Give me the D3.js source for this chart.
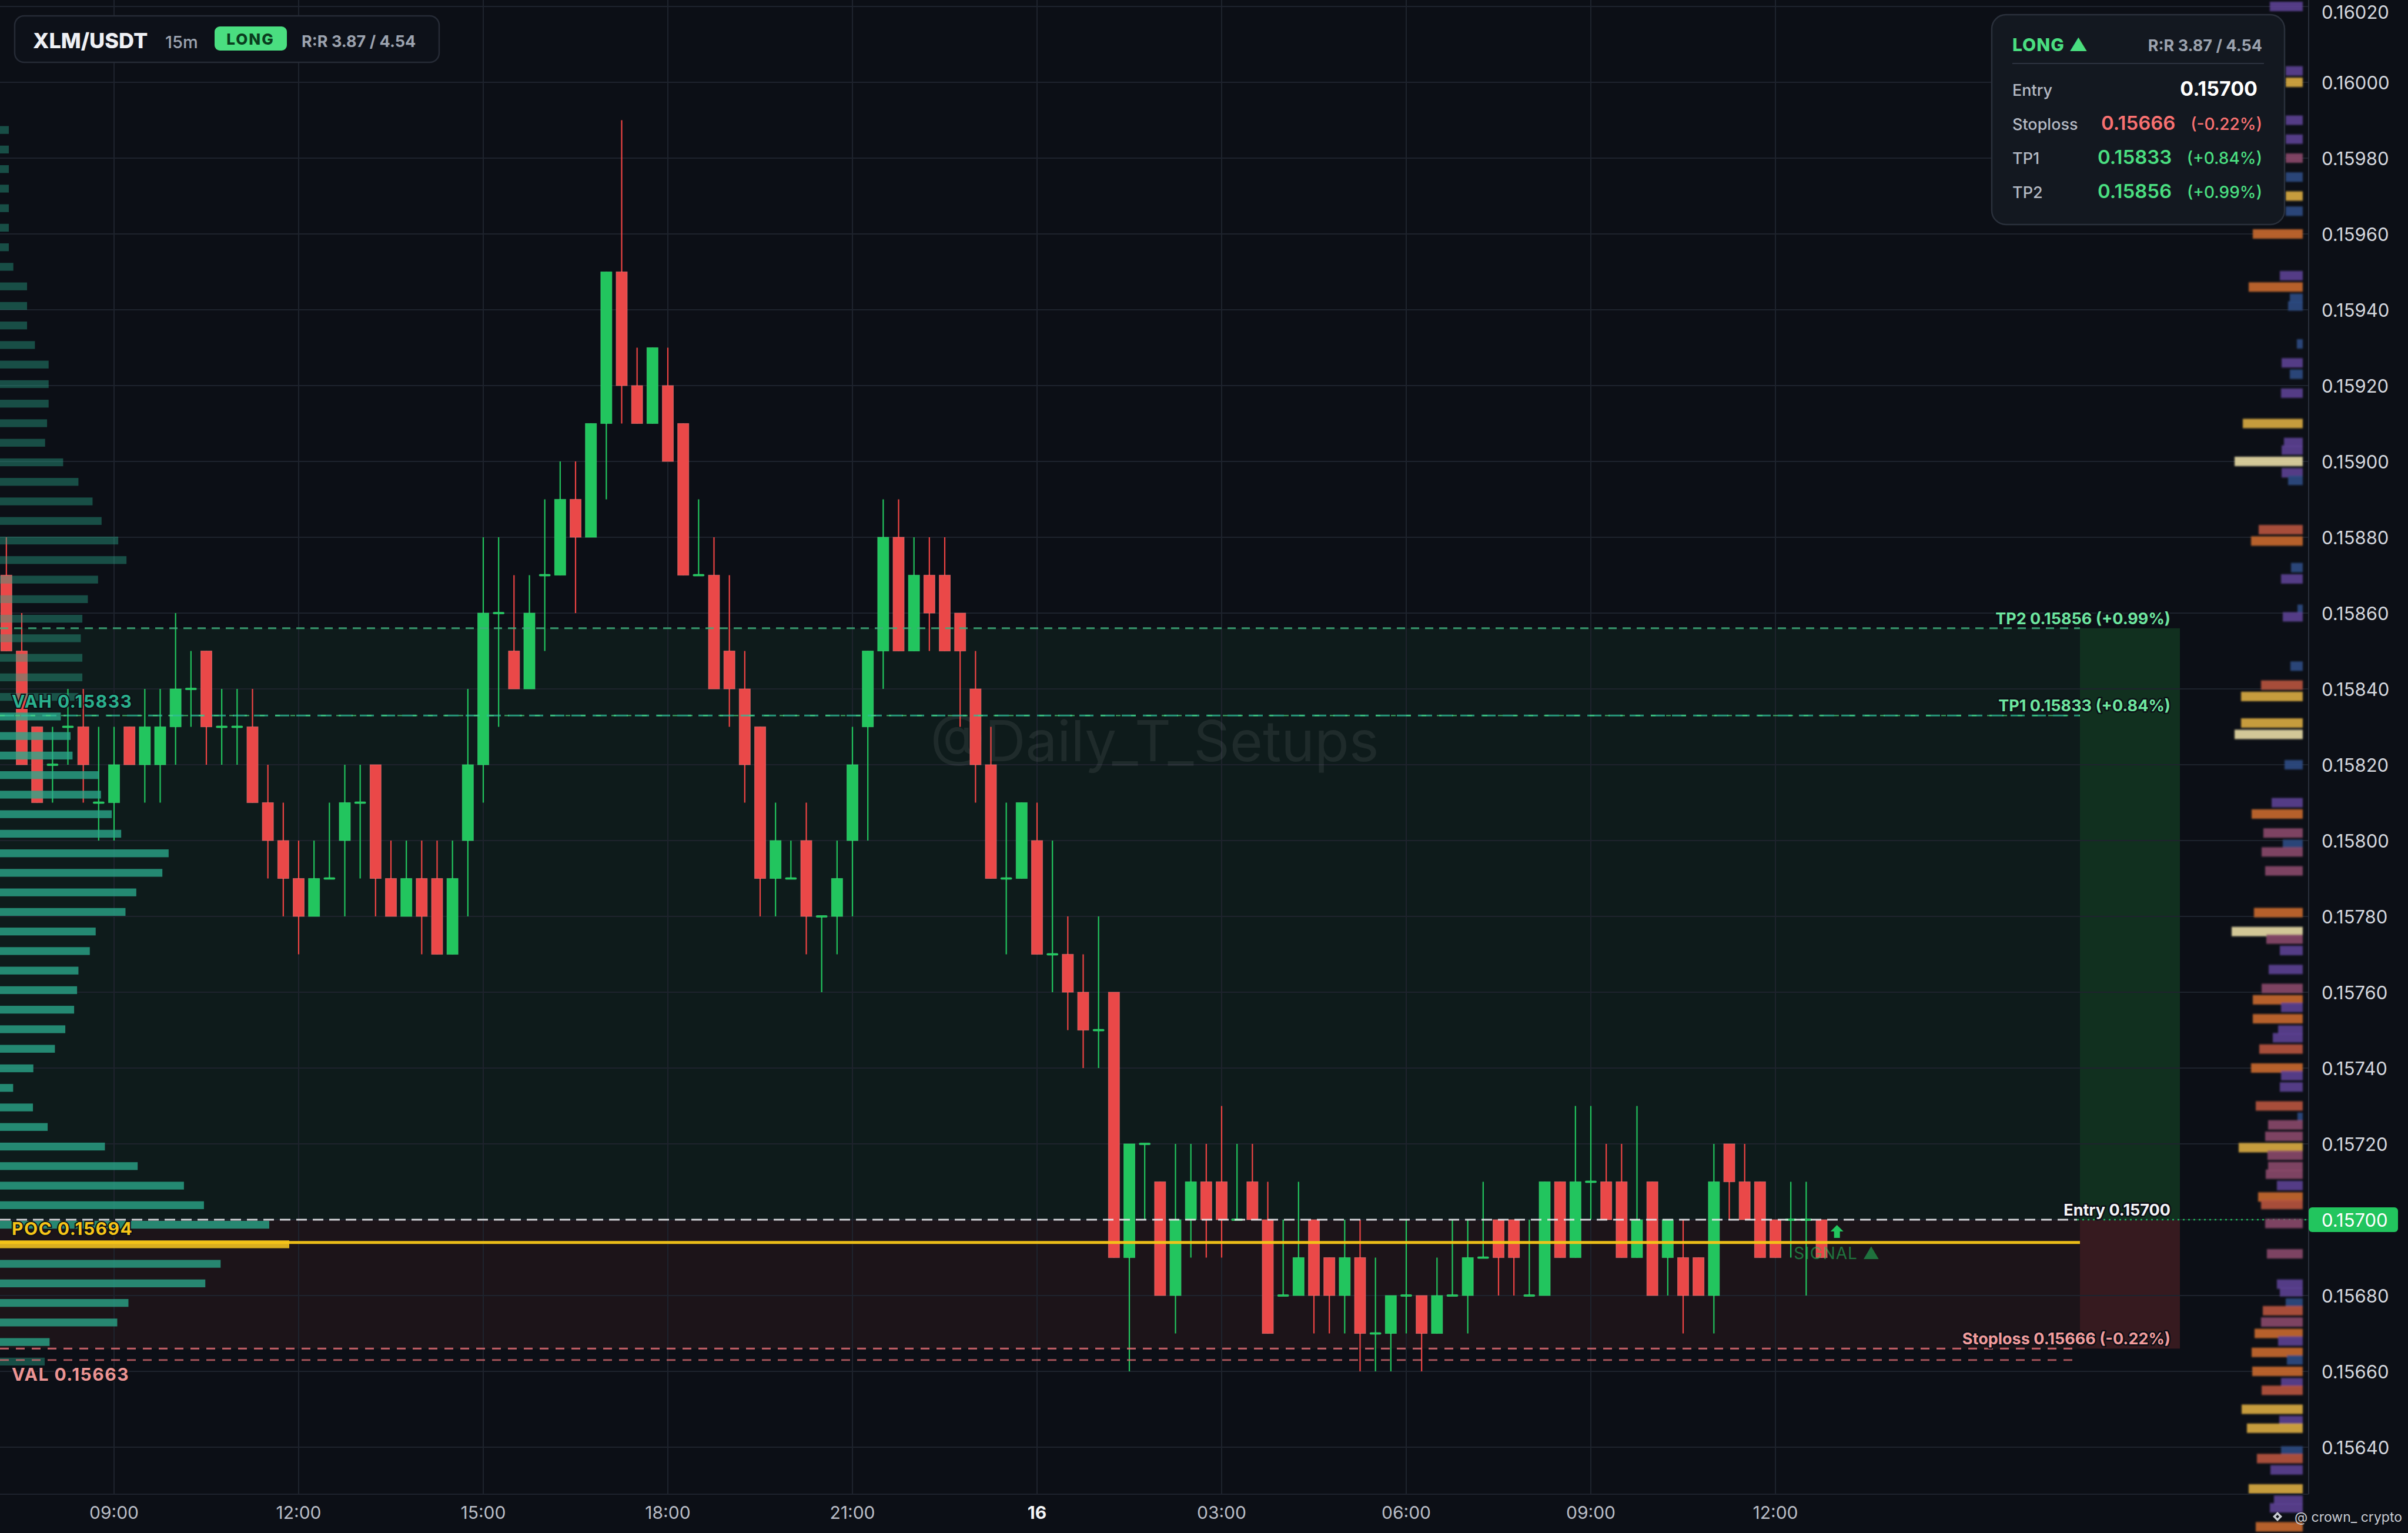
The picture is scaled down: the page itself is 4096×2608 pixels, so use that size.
<!DOCTYPE html>
<html><head><meta charset="utf-8">
<script src="https://cdn.jsdelivr.net/npm/d3@7"></script>
<style>html,body{margin:0;padding:0;background:#0c0f16;overflow:hidden}svg{display:block}</style>
</head><body><svg id="c" width="4096" height="2608"></svg>
<script>
// ---------------- DATA ----------------
const symbol = "XLM/USDT", timeframe = "15m", side = "LONG";
const rrText = "R:R 3.87 / 4.54";
const firstCandle = "2024-01-15 07:15";
const intervalMinutes = 15;
const opens = [
0.15870,0.15850,0.15830,0.15820,0.15830,0.15830,0.15810,0.15810,0.15830,0.15820,
0.15820,0.15830,0.15840,0.15850,0.15830,0.15830,0.15830,0.15810,0.15800,0.15790,
0.15780,0.15790,0.15800,0.15810,0.15820,0.15790,0.15780,0.15790,0.15790,0.15770,
0.15800,0.15820,0.15860,0.15850,0.15840,0.15870,0.15870,0.15890,0.15880,0.15910,
0.15950,0.15920,0.15910,0.15920,0.15910,0.15870,0.15870,0.15850,0.15840,0.15830,
0.15790,0.15790,0.15800,0.15780,0.15780,0.15800,0.15830,0.15850,0.15880,0.15850,
0.15870,0.15870,0.15860,0.15840,0.15820,0.15790,0.15790,0.15800,0.15770,0.15770,
0.15760,0.15750,0.15760,0.15690,0.15720,0.15710,0.15680,0.15700,0.15710,0.15710,
0.15700,0.15710,0.15700,0.15680,0.15680,0.15700,0.15690,0.15680,0.15690,0.15670,
0.15670,0.15680,0.15680,0.15670,0.15680,0.15680,0.15690,0.15700,0.15700,0.15680,
0.15680,0.15710,0.15690,0.15710,0.15710,0.15710,0.15690,0.15710,0.15690,0.15690,
0.15690,0.15680,0.15720,0.15710,0.15710,0.15700,0.15700,0.15700,0.15700];
const highs = [
0.15880,0.15860,0.15830,0.15830,0.15840,0.15840,0.15830,0.15830,0.15830,0.15840,
0.15840,0.15860,0.15850,0.15850,0.15840,0.15840,0.15840,0.15820,0.15810,0.15800,
0.15800,0.15810,0.15820,0.15820,0.15820,0.15800,0.15800,0.15800,0.15800,0.15800,
0.15840,0.15880,0.15880,0.15870,0.15870,0.15890,0.15900,0.15900,0.15910,0.15950,
0.15990,0.15930,0.15930,0.15930,0.15910,0.15890,0.15880,0.15870,0.15850,0.15830,
0.15810,0.15800,0.15810,0.15780,0.15800,0.15830,0.15850,0.15890,0.15890,0.15880,
0.15880,0.15880,0.15860,0.15850,0.15830,0.15810,0.15810,0.15810,0.15800,0.15780,
0.15770,0.15780,0.15760,0.15720,0.15720,0.15710,0.15720,0.15720,0.15720,0.15730,
0.15720,0.15720,0.15710,0.15700,0.15710,0.15700,0.15690,0.15700,0.15700,0.15690,
0.15680,0.15700,0.15680,0.15690,0.15700,0.15700,0.15710,0.15700,0.15700,0.15700,
0.15710,0.15710,0.15730,0.15730,0.15720,0.15720,0.15730,0.15710,0.15700,0.15700,
0.15690,0.15720,0.15720,0.15720,0.15710,0.15700,0.15710,0.15710,0.15700];
const lows = [
0.15850,0.15820,0.15810,0.15810,0.15820,0.15810,0.15800,0.15800,0.15820,0.15810,
0.15810,0.15820,0.15830,0.15820,0.15820,0.15820,0.15810,0.15790,0.15780,0.15770,
0.15780,0.15790,0.15780,0.15790,0.15780,0.15780,0.15780,0.15770,0.15770,0.15770,
0.15780,0.15810,0.15830,0.15840,0.15840,0.15850,0.15870,0.15860,0.15880,0.15890,
0.15910,0.15910,0.15910,0.15900,0.15870,0.15870,0.15840,0.15830,0.15810,0.15780,
0.15780,0.15790,0.15770,0.15760,0.15770,0.15780,0.15800,0.15840,0.15850,0.15850,
0.15850,0.15850,0.15830,0.15810,0.15790,0.15770,0.15790,0.15770,0.15760,0.15750,
0.15740,0.15740,0.15690,0.15660,0.15700,0.15680,0.15670,0.15690,0.15690,0.15690,
0.15700,0.15700,0.15670,0.15680,0.15680,0.15670,0.15670,0.15670,0.15660,0.15660,
0.15660,0.15670,0.15660,0.15670,0.15680,0.15670,0.15690,0.15680,0.15680,0.15680,
0.15680,0.15690,0.15690,0.15700,0.15700,0.15690,0.15690,0.15680,0.15680,0.15670,
0.15680,0.15670,0.15700,0.15700,0.15690,0.15690,0.15690,0.15680,0.15690];
const closes = [
0.15850,0.15820,0.15810,0.15820,0.15830,0.15820,0.15810,0.15820,0.15820,0.15830,
0.15830,0.15840,0.15840,0.15830,0.15830,0.15830,0.15810,0.15800,0.15790,0.15780,
0.15790,0.15790,0.15810,0.15810,0.15790,0.15780,0.15790,0.15780,0.15770,0.15790,
0.15820,0.15860,0.15860,0.15840,0.15860,0.15870,0.15890,0.15880,0.15910,0.15950,
0.15920,0.15910,0.15930,0.15900,0.15870,0.15870,0.15840,0.15840,0.15820,0.15790,
0.15800,0.15790,0.15780,0.15780,0.15790,0.15820,0.15850,0.15880,0.15850,0.15870,
0.15860,0.15850,0.15850,0.15820,0.15790,0.15790,0.15810,0.15770,0.15770,0.15760,
0.15750,0.15750,0.15690,0.15720,0.15720,0.15680,0.15700,0.15710,0.15700,0.15700,
0.15700,0.15700,0.15670,0.15680,0.15690,0.15680,0.15680,0.15690,0.15670,0.15670,
0.15680,0.15680,0.15670,0.15680,0.15680,0.15690,0.15690,0.15690,0.15690,0.15680,
0.15710,0.15690,0.15710,0.15710,0.15700,0.15690,0.15700,0.15680,0.15700,0.15680,
0.15680,0.15710,0.15710,0.15700,0.15690,0.15690,0.15700,0.15700,0.15690];

const entryPrice = 0.15700, stopPrice = 0.15666, tp1Price = 0.15833, tp2Price = 0.15856;
const stopPct = "(-0.22%)", tp1Pct = "(+0.84%)", tp2Pct = "(+0.99%)";
const vahPrice = 0.15833, pocPrice = 0.15694, valPrice = 0.15663;

// volume profile, 64 bins from the high of the range down to the low
const vpVolumes = [45,45,45,45,45,45,45,68,138,138,138,178,248,248,248,240,230,322,400,472,
518,603,645,500,448,420,412,420,420,400,310,360,370,505,515,570,618,860,828,695,
640,488,458,400,393,378,333,280,170,67,168,243,535,702,938,1040,1373,1475,1125,1047,
655,598,253,228];

// order-book heat levels (price, size, intensity tone 0..6)
const heatPrices = [0.16020,0.16003,0.16000,0.15990,0.15985,0.15980,0.15975,0.15970,0.15966,0.15960,
0.15949,0.15946,0.15943,0.15941,0.15931,0.15926,0.15923,0.15918,0.15910,0.15905,
0.15903,0.15900,0.15897,0.15895,0.15882,0.15879,0.15872,0.15869,0.15861,0.15859,
0.15846,0.15841,0.15838,0.15831,0.15828,0.15820,0.15810,0.15807,0.15802,0.15799,
0.15797,0.15792,0.15781,0.15776,0.15774,0.15771,0.15766,0.15761,0.15758,0.15756,
0.15753,0.15750,0.15748,0.15745,0.15740,0.15738,0.15735,0.15730,0.15727,0.15725,
0.15722,0.15719,0.15717,0.15714,0.15712,0.15709,0.15706,0.15704,0.15699,0.15691,
0.15683,0.15681,0.15678,0.15676,0.15673,0.15670,0.15668,0.15665,0.15663,0.15660,
0.15657,0.15655,0.15650,0.15647,0.15645,0.15639,0.15637,0.15634,0.15629,0.15626,
0.15624,0.15619];
const heatSizes = [56,29,29,29,29,29,29,29,29,85,
39,92,22,25,10,36,22,37,102,32,
36,116,36,25,75,88,20,37,9,34,
21,71,105,105,116,31,53,87,67,34,
70,64,83,121,62,39,58,70,85,37,
85,42,51,74,88,37,39,80,9,59,
64,109,60,59,63,44,76,71,64,61,
44,39,29,68,71,82,42,87,27,86,
37,70,104,40,95,37,78,55,92,49,
56,80];
const heatTones = [1,1,5,1,1,2,0,5,0,4,
1,4,0,0,0,1,0,1,5,1,
1,6,1,0,3,4,0,1,0,1,
0,3,5,5,6,0,1,4,2,0,
2,2,4,6,2,1,1,2,4,1,
4,1,1,3,4,1,1,3,0,2,
2,5,2,2,2,1,4,3,2,2,
1,1,0,3,2,4,1,4,0,4,
1,3,5,1,5,0,3,1,5,1,
1,4];

const yTickValues = [0.15640,0.15660,0.15680,0.15700,0.15720,0.15740,0.15760,0.15780,0.15800,0.15820,
0.15840,0.15860,0.15880,0.15900,0.15920,0.15940,0.15960,0.15980,0.16000,0.16020];
const xTickTimes = ["2024-01-15 09:00","2024-01-15 12:00","2024-01-15 15:00","2024-01-15 18:00","2024-01-15 21:00",
"2024-01-16 00:00","2024-01-16 03:00","2024-01-16 06:00","2024-01-16 09:00","2024-01-16 12:00"];
const xTickLabels = ["09:00","12:00","15:00","18:00","21:00","16","03:00","06:00","09:00","12:00"];

// ---------------- LAYOUT ----------------
const W = 4096, H = 2608;
const plotRight = 3927, plotBottom = 2542;
const zoneEnd = 3538, boxEnd = 3708;
const FONT = "Inter, 'Noto Sans', 'Liberation Sans', sans-serif";
const GREEN = "#22c55e", RED = "#ef4444";

const parse = d3.timeParse("%Y-%m-%d %H:%M");
const t0 = parse(firstCandle);
const candles = opens.map((o, i) => ({
  t: d3.timeMinute.offset(t0, i * intervalMinutes), o, h: highs[i], l: lows[i], c: closes[i]
}));

const x = d3.scaleTime()
  .domain([parse("2024-01-15 09:00"), parse("2024-01-16 12:00")])
  .range([194, 3020]);
const y = d3.scaleLinear().domain([0.15640, 0.16000]).range([2462, 140]);
const step = x(d3.timeMinute.offset(t0, intervalMinutes)) - x(t0);
const bodyW = step * 0.72;

const svg = d3.select("#c");
const defs = svg.append("defs");
defs.append("filter").attr("id", "soft").attr("x", "-10%").attr("y", "-50%").attr("width", "120%").attr("height", "200%")
  .append("feGaussianBlur").attr("stdDeviation", 1.4);

svg.append("rect").attr("width", W).attr("height", H).attr("fill", "#0c0f16");

// zones
const zones = svg.append("g");
zones.append("rect").attr("x", 0).attr("y", y(tp2Price)).attr("width", zoneEnd)
  .attr("height", y(entryPrice) - y(tp2Price)).attr("fill", "#0e1b1b");
zones.append("rect").attr("x", 0).attr("y", y(entryPrice)).attr("width", zoneEnd)
  .attr("height", y(stopPrice) - y(entryPrice)).attr("fill", "#1c1419");
zones.append("rect").attr("x", zoneEnd).attr("y", y(tp2Price)).attr("width", boxEnd - zoneEnd)
  .attr("height", y(entryPrice) - y(tp2Price)).attr("fill", "#11301f");
zones.append("rect").attr("x", zoneEnd).attr("y", y(entryPrice)).attr("width", boxEnd - zoneEnd)
  .attr("height", y(stopPrice) - y(entryPrice)).attr("fill", "#361a1f");

// grid
const grid = svg.append("g").attr("stroke", "#1e232d").attr("stroke-width", 2);
grid.selectAll("line.h").data(yTickValues).join("line").attr("class", "h")
  .attr("x1", 0).attr("x2", plotRight).attr("y1", d => y(d)).attr("y2", d => y(d));
grid.selectAll("line.v").data(xTickTimes).join("line").attr("class", "v")
  .attr("x1", d => x(parse(d))).attr("x2", d => x(parse(d))).attr("y1", 0).attr("y2", plotBottom);

// watermark
svg.append("text").attr("x", 1964).attr("y", 1295).attr("text-anchor", "middle")
  .attr("font-family", FONT).attr("font-size", 96).attr("fill", "#ffffff").attr("fill-opacity", 0.07)
  .text("@Daily_T_Setups");

// candles
const cg = svg.append("g");
cg.selectAll("line.wick").data(candles).join("line").attr("class", "wick")
  .attr("x1", d => x(d.t)).attr("x2", d => x(d.t))
  .attr("y1", d => y(d.h)).attr("y2", d => y(d.l))
  .attr("stroke", d => d.c >= d.o ? GREEN : RED).attr("stroke-width", 2.2);
cg.selectAll("rect.body").data(candles).join("rect").attr("class", "body")
  .attr("x", d => x(d.t) - bodyW / 2).attr("width", bodyW)
  .attr("y", d => d.o === d.c ? y(d.o) - 1.5 : y(Math.max(d.o, d.c)))
  .attr("height", d => d.o === d.c ? 3 : Math.abs(y(d.o) - y(d.c)))
  .attr("rx", d => d.o === d.c ? 1.5 : 0)
  .attr("fill", d => d.c >= d.o ? GREEN : "#ea4848")
  .attr("stroke", d => d.c >= d.o ? "#3ee07a" : "#f07a7a").attr("stroke-width", 1.2).attr("stroke-opacity", 0.6);

// volume profile (drawn over candles, semi-transparent)
const vpHigh = d3.max(highs), vpLow = d3.min(lows);
const binH = (vpHigh - vpLow) / vpVolumes.length;
const vpx = d3.scaleLinear().domain([0, d3.max(vpVolumes)]).range([0, 492]);
const pocIdx = d3.maxIndex(vpVolumes);
const vpBarH = Math.abs(y(0) - y(binH)) * 0.4;
svg.append("g").selectAll("rect").data(vpVolumes).join("rect")
  .attr("x", 0)
  .attr("y", (d, i) => y(vpHigh - (i + 0.5) * binH) - vpBarH / 2)
  .attr("width", d => vpx(d)).attr("height", vpBarH)
  .attr("fill", (d, i) => i === pocIdx ? "#f0c020" : "#2aa88b")
  .attr("fill-opacity", (d, i) => {
    if (i === pocIdx) return 0.9;
    const p = vpHigh - (i + 0.5) * binH;
    return (p <= vahPrice && p >= valPrice) ? 0.78 : 0.42;
  });

// level lines
const lines = svg.append("g").attr("fill", "none");
function hline(price, x1, x2, color, width, dash, op) {
  lines.append("line").attr("x1", x1).attr("x2", x2).attr("y1", y(price)).attr("y2", y(price))
    .attr("stroke", color).attr("stroke-width", width).attr("stroke-dasharray", dash)
    .attr("stroke-opacity", op == null ? 1 : op);
}
hline(tp2Price, 0, zoneEnd, "#3fae7c", 3, "14 10", 0.85);
hline(vahPrice, 0, zoneEnd, "#2fbf9a", 3, "24 12", 0.75);
hline(tp1Price, 0, zoneEnd, "#4ade80", 2.5, "8 18", 0.6);
hline(entryPrice, 0, 3533, "#e5e7eb", 3, "18 10", 0.9);
hline(entryPrice, 3533, plotRight, GREEN, 2.5, "3 6", 0.9);
hline(stopPrice, 0, 3528, "#e26d74", 3, "15 12", 0.85);
hline(valPrice, 0, 3528, "#e26d74", 3, "15 12", 0.7);
hline(pocPrice, 0, zoneEnd, "#f5c518", 5, null, 0.95);

// line labels (right)
const lab = svg.append("g").attr("font-family", FONT).attr("font-weight", 700).attr("font-size", 27)
  .attr("text-anchor", "end").attr("stroke", "#0c0f16").attr("stroke-width", 5)
  .attr("paint-order", "stroke").attr("stroke-linejoin", "round");
lab.append("text").attr("x", 3692).attr("y", y(tp2Price) - 7).attr("fill", "#6ee7a0")
  .text(`TP2 ${tp2Price.toFixed(5)} ${tp2Pct}`);
lab.append("text").attr("x", 3692).attr("y", y(tp1Price) - 7).attr("fill", "#6ee7a0")
  .text(`TP1 ${tp1Price.toFixed(5)} ${tp1Pct}`);
lab.append("text").attr("x", 3692).attr("y", y(entryPrice) - 7).attr("fill", "#f3f4f6")
  .text(`Entry ${entryPrice.toFixed(5)}`);
lab.append("text").attr("x", 3692).attr("y", y(stopPrice) - 7).attr("fill", "#f29c9c")
  .text(`Stoploss ${stopPrice.toFixed(5)} ${stopPct}`);

// profile labels (left)
const pl = svg.append("g").attr("font-family", FONT).attr("font-weight", 700).attr("font-size", 30)
  .attr("letter-spacing", 1.5).attr("stroke", "#0c0f16").attr("stroke-width", 4)
  .attr("paint-order", "stroke");
pl.append("text").attr("x", 20).attr("y", y(vahPrice) - 13).attr("fill", "#2fc79f").attr("fill-opacity", 0.9)
  .text(`VAH  ${vahPrice.toFixed(5)}`);
pl.append("text").attr("x", 20).attr("y", y(pocPrice) - 13).attr("fill", "#f5c518")
  .text(`POC  ${pocPrice.toFixed(5)}`);
pl.append("text").attr("x", 20).attr("y", y(valPrice) + 35).attr("fill", "#ec9493")
  .text(`VAL  ${valPrice.toFixed(5)}`);

// signal marker
const sigX = x(d3.timeMinute.offset(candles[candles.length - 1].t, intervalMinutes));
const sigTop = y(entryPrice) + 9;
svg.append("path")
  .attr("d", `M${sigX},${sigTop} l11,11 h-6 v11 h-10 v-11 h-6 z`)
  .attr("fill", GREEN);
svg.append("text").attr("x", sigX).attr("y", y(pocPrice) + 28).attr("text-anchor", "middle")
  .attr("font-family", FONT).attr("font-size", 28).attr("fill", GREEN).attr("fill-opacity", 0.55)
  .attr("letter-spacing", 1).text("SIGNAL ▲");

// order-book heat
const palette = ["#2b4a80", "#5a408f", "#874868", "#b4523e", "#c4672e", "#d6a83f", "#e3d7a2"];
const hx = d3.scaleLinear().domain([0, d3.max(heatSizes)]).range([0, 121]);
svg.append("g").attr("filter", "url(#soft)").selectAll("rect").data(heatPrices).join("rect")
  .attr("x", (d, i) => 3917 - hx(heatSizes[i]))
  .attr("y", d => y(d) - 8)
  .attr("width", (d, i) => hx(heatSizes[i])).attr("height", 16)
  .attr("fill", (d, i) => palette[heatTones[i]]).attr("fill-opacity", 0.92);

// axes frame
svg.append("line").attr("x1", plotRight).attr("x2", plotRight).attr("y1", 0).attr("y2", plotBottom)
  .attr("stroke", "#2a2f3b").attr("stroke-width", 2);
svg.append("line").attr("x1", 0).attr("x2", plotRight).attr("y1", plotBottom).attr("y2", plotBottom)
  .attr("stroke", "#1e232d").attr("stroke-width", 2);

// y labels
const fmt = d3.format(".5f");
svg.append("g").attr("font-family", FONT).attr("font-size", 31).attr("fill", "#d4d7de")
  .selectAll("text").data(yTickValues).join("text")
  .attr("x", 3949).attr("y", d => Math.max(y(d), 20)).attr("dominant-baseline", "central").text(d => fmt(d));
// price tag
svg.append("rect").attr("x", plotRight).attr("y", y(entryPrice) - 21).attr("width", 152).attr("height", 42)
  .attr("rx", 6).attr("fill", GREEN);
svg.append("text").attr("x", 3949).attr("y", y(entryPrice)).attr("dominant-baseline", "central")
  .attr("font-family", FONT).attr("font-size", 31).attr("fill", "#ffffff").text(fmt(entryPrice));

// x labels
svg.append("g").attr("font-family", FONT).attr("font-size", 30).attr("text-anchor", "middle")
  .selectAll("text").data(xTickTimes).join("text")
  .attr("x", d => x(parse(d))).attr("y", 2584)
  .attr("fill", (d, i) => xTickLabels[i].length < 3 ? "#f3f4f6" : "#b9bdc6")
  .attr("font-weight", (d, i) => xTickLabels[i].length < 3 ? 700 : 400)
  .text((d, i) => xTickLabels[i]);

// header
const hd = svg.append("g").attr("font-family", FONT);
hd.append("rect").attr("x", 25).attr("y", 27).attr("width", 722).attr("height", 79).attr("rx", 16)
  .attr("fill", "#0d1119").attr("stroke", "#262b36").attr("stroke-width", 2.5);
hd.append("text").attr("x", 56).attr("y", 82).attr("font-size", 36).attr("font-weight", 800)
  .attr("fill", "#eef0f4").text(symbol);
hd.append("text").attr("x", 281).attr("y", 82).attr("font-size", 29).attr("font-weight", 500)
  .attr("fill", "#9ca3af").text(timeframe);
hd.append("rect").attr("x", 365).attr("y", 45).attr("width", 123).attr("height", 41).attr("rx", 9)
  .attr("fill", "#4ade80");
hd.append("text").attr("x", 426).attr("y", 76).attr("text-anchor", "middle").attr("font-size", 26)
  .attr("font-weight", 800).attr("letter-spacing", 2).attr("fill", "#0a3d1e").text(side);
hd.append("text").attr("x", 513).attr("y", 80).attr("font-size", 27).attr("font-weight", 700)
  .attr("fill", "#9ca3af").text(rrText);

// info box
const ib = svg.append("g").attr("font-family", FONT);
ib.append("rect").attr("x", 3388).attr("y", 25).attr("width", 498).attr("height", 357).attr("rx", 24)
  .attr("fill", "#131820").attr("stroke", "#2a303b").attr("stroke-width", 2.5);
ib.append("text").attr("x", 3423).attr("y", 87).attr("font-size", 30).attr("font-weight", 800)
  .attr("letter-spacing", 1).attr("fill", "#4ade80").text(side + " ▲");
ib.append("text").attr("x", 3848).attr("y", 87).attr("text-anchor", "end").attr("font-size", 27)
  .attr("font-weight", 700).attr("fill", "#9ca3af").text(rrText);
ib.append("line").attr("x1", 3423).attr("x2", 3851).attr("y1", 108).attr("y2", 108)
  .attr("stroke", "#2d3340").attr("stroke-width", 2);
const rows = [
  {k: "Entry", y: 163},
  {k: "Stoploss", y: 221, v: stopPrice, p: stopPct, c: "#f87171", vx: 3574},
  {k: "TP1", y: 279, v: tp1Price, p: tp1Pct, c: "#4ade80", vx: 3568},
  {k: "TP2", y: 337, v: tp2Price, p: tp2Pct, c: "#4ade80", vx: 3568}
];
rows.forEach(r => {
  ib.append("text").attr("x", 3423).attr("y", r.y).attr("font-size", 27).attr("font-weight", 500)
    .attr("fill", "#b4b9c3").text(r.k);
  if (r.v == null) {
    ib.append("text").attr("x", 3840).attr("y", r.y).attr("text-anchor", "end").attr("font-size", 34)
      .attr("font-weight", 700).attr("fill", "#ffffff").text(fmt(entryPrice));
  } else {
    ib.append("text").attr("x", r.vx).attr("y", r.y).attr("font-size", 33).attr("font-weight", 600)
      .attr("fill", r.c).text(fmt(r.v));
    ib.append("text").attr("x", 3848).attr("y", r.y).attr("text-anchor", "end").attr("font-size", 28)
      .attr("font-weight", 500).attr("fill", r.c).text(r.p);
  }
});

// corner credit
const cr = svg.append("g").attr("font-family", FONT).attr("fill", "#c9ccd3");
cr.append("path").attr("d", "M3874,2572 l8,8 l-8,8 l-8,-8 z M3874,2577 l3,3 l-3,3 l-3,-3 z")
  .attr("fill", "#c9ccd3").attr("fill-rule", "evenodd");
cr.append("text").attr("x", 4086).attr("y", 2589).attr("text-anchor", "end").attr("font-size", 23)
  .text("@ crown_ crypto");
</script></body></html>
